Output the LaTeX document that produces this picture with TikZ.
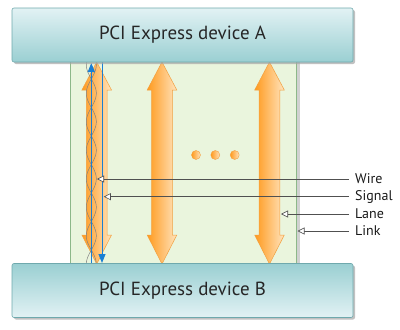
\documentclass[tikz,border=0pt]{standalone}
\usepackage{fontspec}
\setmainfont{PT Sans}
\usetikzlibrary{arrows.meta,shadows,calc}
\definecolor{boxtop}{HTML}{E2F2F4}
\definecolor{boxbot}{HTML}{9ACFD2}
\definecolor{boxline}{HTML}{6FA9AD}
\definecolor{linkfill}{HTML}{EAF5DD}
\definecolor{linkline}{HTML}{8DB889}
\definecolor{ordark}{HTML}{FF9A1E}
\definecolor{orlight}{HTML}{FFE4BE}
\definecolor{orline}{HTML}{F2A040}
\definecolor{sigblue}{HTML}{1A7FD4}
\definecolor{lblline}{HTML}{505050}
\tikzset{
  devbox/.style={draw=boxline, line width=0.6pt, rounded corners=2pt,
    minimum width=341pt, minimum height=54pt, inner sep=0pt,
    font=\fontsize{19}{21}\selectfont, text=black!85,
    drop shadow={shadow xshift=2pt, shadow yshift=-2pt, fill=black!35, opacity=0.7}},
  lbl/.style={anchor=west, inner sep=0pt, font=\fontsize{14}{16}\selectfont, text=black!90},
  lblarrow/.style={draw=lblline, line width=0.6pt,
    -{Triangle[length=7pt,width=7pt,fill=white,line width=0.6pt]}},
  lanearrow/.style={left color=ordark, right color=orlight, draw=orline, line width=0.5pt},
  wire/.style={draw=black!50, line width=0.5pt},
  sig/.style={draw=sigblue, line width=1pt},
  dotst/.style={circle, minimum size=9pt, inner sep=0pt, draw=orline, line width=0.4pt,
    left color=ordark, right color=orlight},
}
\begin{document}
\begin{tikzpicture}[x=1pt,y=-1pt]
\useasboundingbox (0,0) rectangle (400,330);
% link area
\fill[black!18] (296,62) rectangle (299.5,264);
\fill[linkfill] (70.7,62) rectangle (296,264);
\draw[linkline, line width=0.7pt] (70.7,62) -- (70.7,264) (296,62) -- (296,264);
% lane arrows
\foreach \cx/\nm in {96.7/laneA,162/laneB,269.5/laneC}{
  \path[lanearrow] (\cx,62) -- (\cx+14.8,90) -- (\cx+10.3,90) -- (\cx+10.3,235)
    -- (\cx+14.8,235) -- (\cx,264) -- (\cx-14.8,235) -- (\cx-10.3,235)
    -- (\cx-10.3,90) -- (\cx-14.8,90) -- cycle;
}
% dots
\node[dotst] (d1) at (196,155) {};
\node[dotst] (d2) at (215.3,155) {};
\node[dotst] (d3) at (234.7,155) {};
% twisted wires
\begin{scope}
\clip (80,62) rectangle (112,264);
\draw[wire] plot[domain=50:276, samples=200, variable=\yy] ({91.3+5*sin(6.31579*(\yy-79))}, \yy);
\draw[wire] plot[domain=50:276, samples=200, variable=\yy] ({91.3-5*sin(6.31579*(\yy-79))}, \yy);
\end{scope}
% signal lines
\coordinate (s1b) at (91.3,264);
\coordinate (s1t) at (91.3,63);
\coordinate (s2t) at (102,62);
\coordinate (s2b) at (102,263);
\draw[sig, -{Triangle[length=9pt,width=7pt]}] (s1b) -- (s1t);
\draw[sig, -{Triangle[length=9pt,width=7pt]}] (s2t) -- (s2b);
% boxes
\node[devbox, top color=boxtop, bottom color=boxbot] (devA) at (182.5,35) {PCI Express device A};
\node[devbox, top color=boxbot, bottom color=boxtop] (devB) at (182.5,290.5) {PCI Express device B};
% labels
\node[lbl] (lwire) at (355,179) {Wire};
\node[lbl] (lsig) at (355,196.7) {Signal};
\node[lbl] (llane) at (355,214) {Lane};
\node[lbl] (llink) at (355,231) {Link};
\coordinate (twire) at (97,179);
\coordinate (tsig) at (103.8,196.7);
\coordinate (tlane) at (281,214);
\coordinate (tlink) at (297.5,231);
\draw[lblarrow] ($(lwire.west)+(-6,0)$) -- (twire);
\draw[lblarrow] ($(lsig.west)+(-6,0)$) -- (tsig);
\draw[lblarrow] ($(llane.west)+(-6,0)$) -- (tlane);
\draw[lblarrow] ($(llink.west)+(-6,0)$) -- (tlink);
\end{tikzpicture}
\end{document}
